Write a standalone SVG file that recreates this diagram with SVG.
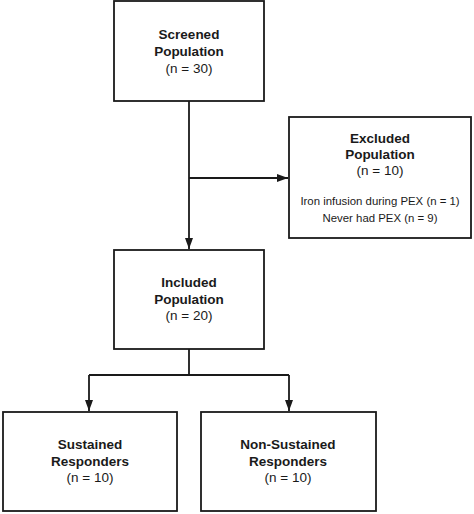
<svg xmlns="http://www.w3.org/2000/svg" width="474" height="514" viewBox="0 0 474 514">
<defs>
<style>
.box{fill:#fff;stroke:#1a1a1a;stroke-width:1.8}
.ln{fill:none;stroke:#1a1a1a;stroke-width:1.8}
text{font-family:"Liberation Sans",Arial,sans-serif;fill:#1a1a1a;text-anchor:middle}
.b{font-weight:bold;font-size:13.5px}
.n{font-size:13.5px}
.s{font-size:11.4px}
</style>
<marker id="ah" markerWidth="12" markerHeight="10" refX="11" refY="5" orient="auto" markerUnits="userSpaceOnUse">
<path d="M0,1 L11,5 L0,9 Z" fill="#1a1a1a"/>
</marker>
</defs>
<rect width="474" height="514" fill="#fff"/>
<g id="connectors">
<path class="ln" d="M189,101 V249" marker-end="url(#ah)"/>
<path class="ln" d="M189,178 H288" marker-end="url(#ah)"/>
<path class="ln" d="M189,349 V375 M89,375 H289"/>
<path class="ln" d="M89,375 V411" marker-end="url(#ah)"/>
<path class="ln" d="M289,375 V411" marker-end="url(#ah)"/>
</g>
<g id="screened">
<rect class="box" x="114" y="1" width="150" height="100"/>
<text class="b" x="189" y="39">Screened</text>
<text class="b" x="189" y="56">Population</text>
<text class="n" x="189" y="73">(n = 30)</text>
</g>
<g id="excluded">
<rect class="box" x="289" y="117" width="182" height="121"/>
<text class="b" x="380" y="143">Excluded</text>
<text class="b" x="380" y="159">Population</text>
<text class="n" x="380" y="175">(n = 10)</text>
<text class="s" x="380" y="205">Iron infusion during PEX (n = 1)</text>
<text class="s" x="380" y="222">Never had PEX (n = 9)</text>
</g>
<g id="included">
<rect class="box" x="114" y="250" width="150" height="99"/>
<text class="b" x="189" y="287">Included</text>
<text class="b" x="189" y="304">Population</text>
<text class="n" x="189" y="320">(n = 20)</text>
</g>
<g id="sustained">
<rect class="box" x="3" y="412" width="174" height="99"/>
<text class="b" x="90" y="449">Sustained</text>
<text class="b" x="90" y="466">Responders</text>
<text class="n" x="90" y="482">(n = 10)</text>
</g>
<g id="nonsustained">
<rect class="box" x="201" y="412" width="175" height="99"/>
<text class="b" x="288" y="449">Non-Sustained</text>
<text class="b" x="288" y="466">Responders</text>
<text class="n" x="288" y="482">(n = 10)</text>
</g>
</svg>
